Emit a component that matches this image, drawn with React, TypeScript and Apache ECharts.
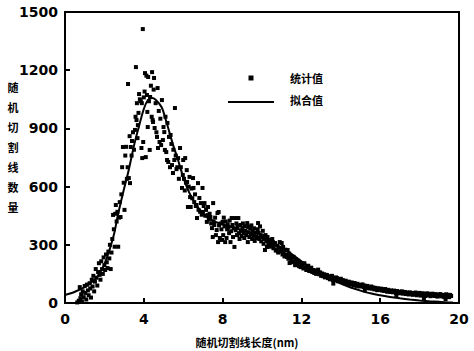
import React, { useEffect, useRef } from "react";
import * as echarts from "echarts";

const xTicks = [0, 4, 8, 12, 16, 20];
const yTicks = [0, 300, 600, 900, 1200, 1500];
const legendNames = ["统计值", "拟合值"];
const xAxisTitle = "随机切割线长度(nm)";
const yAxisTitle = "随机切割线数量";

const risePoints: number[][] = [
  [0.62, 3], [0.7, 12], [0.75, 82], [0.78, 25], [0.82, 45], [0.86, 8], [0.9, 60], [0.95, 30],
  [1.0, 88], [1.03, 52], [1.08, 18], [1.12, 95], [1.16, 65], [1.2, 40], [1.25, 102], [1.28, 75],
  [1.32, 28], [1.36, 120], [1.4, 85], [1.44, 140], [1.48, 60], [1.52, 110], [1.56, 175], [1.6, 130],
  [1.64, 90], [1.68, 160], [1.72, 205], [1.76, 145], [1.8, 120], [1.84, 215], [1.88, 175], [1.92, 150],
  [1.96, 235], [2.0, 195], [2.04, 170], [2.08, 250], [2.12, 210], [2.16, 180], [2.2, 265],
  [2.25, 230], [2.28, 300], [2.32, 175], [2.36, 260], [2.4, 330], [2.44, 454], [2.48, 380], [2.52, 290],
  [2.55, 460], [2.58, 505], [2.62, 420], [2.66, 470], [2.7, 290], [2.74, 440], [2.78, 520], [2.82, 443],
  [2.86, 560], [2.9, 700], [2.94, 804], [2.98, 620], [3.02, 480], [3.06, 760], [3.1, 805], [3.14, 640],
  [3.18, 700], [3.2, 1129], [3.24, 644], [3.28, 860],
];

const peakPoints: number[][] = [
  [3.3, 618], [3.34, 804], [3.38, 760], [3.4, 835], [3.45, 880], [3.5, 790], [3.55, 892], [3.58, 960],
  [3.6, 1216], [3.63, 943], [3.65, 1030], [3.68, 850], [3.7, 917], [3.73, 980], [3.76, 1077], [3.8, 1050],
  [3.85, 1040], [3.88, 799], [3.9, 1030], [3.92, 747], [3.95, 1412], [3.97, 830], [4.0, 1060], [4.04, 1090],
  [4.06, 1185], [4.1, 752], [4.13, 1172], [4.16, 1072], [4.18, 985], [4.2, 907], [4.22, 1165], [4.26, 1040],
  [4.3, 789], [4.32, 1062], [4.36, 1120], [4.4, 960], [4.42, 1190], [4.45, 943], [4.47, 933], [4.5, 1100],
  [4.52, 1160], [4.55, 902], [4.6, 1030], [4.64, 880], [4.67, 856], [4.7, 1108], [4.72, 799], [4.76, 990],
  [4.8, 830], [4.84, 950], [4.88, 814], [4.92, 1046], [4.97, 840], [5.0, 907], [5.04, 881], [5.07, 789],
  [5.1, 960], [5.14, 778], [5.18, 737], [5.2, 928], [5.24, 727], [5.28, 856], [5.33, 700], [5.36, 866],
  [5.4, 820], [5.43, 711], [5.48, 670], [5.5, 790], [5.55, 737], [5.58, 1005], [5.62, 760], [5.66, 690],
  [5.7, 700], [5.74, 747], [5.78, 640], [5.84, 799], [5.88, 700], [5.94, 593], [5.98, 660], [6.0, 737],
];

const shoulderPoints: number[][] = [
  [6.04, 640], [6.08, 580], [6.1, 747], [6.14, 620], [6.18, 685], [6.2, 624], [6.24, 495], [6.28, 600],
  [6.32, 650], [6.35, 546], [6.38, 495], [6.42, 590], [6.46, 540], [6.5, 644], [6.52, 593], [6.56, 520],
  [6.6, 560], [6.64, 500], [6.68, 505], [6.7, 438], [6.75, 618], [6.78, 480], [6.82, 541], [6.86, 470],
  [6.9, 515], [6.94, 455], [6.98, 593], [7.0, 469], [7.04, 500], [7.08, 515], [7.12, 450], [7.16, 480],
  [7.2, 418], [7.24, 453], [7.26, 495], [7.3, 430], [7.34, 460], [7.38, 443], [7.42, 410], [7.46, 386],
  [7.5, 340], [7.52, 515], [7.54, 420], [7.58, 402], [7.62, 440], [7.66, 350], [7.7, 376], [7.74, 464],
  [7.77, 314], [7.8, 469], [7.82, 400], [7.86, 335], [7.9, 410], [7.94, 380], [7.97, 325], [8.0, 418],
  [8.03, 350], [8.06, 440], [8.1, 395], [8.13, 314], [8.16, 420], [8.2, 335], [8.23, 380], [8.26, 405],
  [8.3, 392], [8.33, 360], [8.36, 425], [8.4, 314], [8.43, 370], [8.46, 438], [8.5, 402], [8.53, 340],
  [8.56, 385], [8.6, 289], [8.63, 438], [8.66, 375], [8.7, 410], [8.73, 350], [8.76, 395], [8.8, 438],
  [8.83, 360], [8.86, 330], [8.9, 402], [8.93, 372], [8.96, 345], [9.0, 386], [9.03, 410], [9.06, 360],
  [9.1, 335], [9.13, 395], [9.16, 372], [9.2, 350], [9.25, 412], [9.28, 314], [9.3, 392], [9.33, 365],
  [9.36, 340], [9.4, 385], [9.43, 355], [9.46, 400], [9.5, 330], [9.53, 370], [9.56, 350], [9.6, 385],
  [9.63, 320], [9.66, 362], [9.7, 340], [9.75, 335], [9.78, 380], [9.8, 412], [9.83, 361], [9.86, 330],
  [9.9, 395], [9.93, 350], [9.96, 318], [10.0, 345], [10.04, 372], [10.08, 305], [10.12, 330], [10.15, 273],
  [10.18, 350], [10.22, 320], [10.25, 289], [10.28, 340], [10.32, 305], [10.36, 325], [10.4, 290], [10.44, 315],
  [10.48, 298], [10.52, 330], [10.55, 314], [10.58, 282], [10.62, 300], [10.66, 309], [10.7, 270], [10.75, 273],
  [10.78, 295], [10.82, 260], [10.86, 285], [10.9, 314], [10.94, 265], [10.98, 280], [11.0, 309], [11.04, 250],
  [11.07, 289], [11.1, 262], [11.14, 240], [11.18, 275], [11.22, 250], [11.27, 237], [11.3, 273], [11.34, 228],
  [11.38, 255], [11.4, 206], [11.44, 245], [11.48, 222], [11.52, 235], [11.56, 210], [11.6, 238], [11.64, 215],
  [11.68, 195], [11.72, 225], [11.76, 205], [11.8, 206], [11.84, 218], [11.88, 190], [11.92, 210], [11.96, 185],
  [12.0, 200],
];

const tailPoints: number[][] = [
  [12.05, 192], [12.1, 178], [12.15, 205], [12.2, 185], [12.25, 170], [12.3, 180], [12.35, 192], [12.4, 165],
  [12.45, 175], [12.5, 182], [12.55, 160], [12.6, 170], [12.65, 155], [12.7, 168], [12.75, 150], [12.8, 160],
  [12.85, 172], [12.9, 148], [12.95, 158], [13.0, 140], [13.05, 152], [13.1, 138], [13.15, 148], [13.2, 132],
  [13.25, 145], [13.3, 144], [13.35, 128], [13.4, 138], [13.45, 122], [13.5, 133], [13.55, 140], [13.6, 118],
  [13.62, 100], [13.65, 128], [13.7, 120], [13.75, 132], [13.8, 129], [13.85, 112], [13.9, 122], [13.95, 115],
  [14.0, 125], [14.05, 108], [14.1, 118], [14.15, 112], [14.2, 102], [14.25, 115], [14.3, 108], [14.35, 98],
  [14.4, 110], [14.45, 104], [14.5, 95], [14.55, 106], [14.6, 100], [14.65, 92], [14.7, 103], [14.75, 96],
  [14.8, 88], [14.85, 99], [14.9, 92], [14.95, 85], [15.0, 93], [15.05, 88], [15.1, 96], [15.15, 82],
  [15.2, 90], [15.22, 65], [15.25, 84], [15.3, 78], [15.35, 88], [15.4, 80], [15.45, 75], [15.5, 77],
  [15.55, 85], [15.6, 74], [15.65, 80], [15.7, 70], [15.75, 78], [15.8, 72], [15.85, 66], [15.9, 76],
  [15.95, 70], [16.0, 67], [16.05, 74], [16.1, 64], [16.15, 70], [16.2, 62], [16.25, 72], [16.3, 66],
  [16.35, 58], [16.4, 68], [16.45, 62], [16.5, 57], [16.55, 65], [16.6, 60], [16.65, 55], [16.7, 64],
  [16.75, 58], [16.8, 52], [16.82, 38], [16.85, 62], [16.9, 56], [16.95, 50], [17.0, 58], [17.05, 53],
  [17.1, 60], [17.15, 48], [17.2, 52], [17.25, 57], [17.3, 46], [17.35, 54], [17.4, 50], [17.45, 44],
  [17.5, 55], [17.55, 48], [17.6, 52], [17.65, 42], [17.7, 50], [17.75, 46], [17.8, 54], [17.85, 40],
  [17.9, 48], [17.95, 44], [18.0, 52], [18.05, 38], [18.1, 46], [18.15, 50], [18.2, 42], [18.22, 25],
  [18.25, 48], [18.3, 36], [18.35, 45], [18.4, 50], [18.45, 40], [18.5, 46], [18.55, 35], [18.6, 44],
  [18.65, 48], [18.7, 41], [18.75, 36], [18.8, 46], [18.85, 40], [18.9, 33], [18.95, 44], [19.0, 38],
  [19.05, 46], [19.1, 34], [19.15, 42], [19.2, 37], [19.25, 30], [19.3, 41], [19.32, 20], [19.35, 45],
  [19.4, 35], [19.45, 40], [19.5, 30], [19.55, 42], [19.6, 36],
];

const fitPoints: number[][] = [
  [0, 41], [0.5, 58], [1.0, 82], [1.5, 120], [1.8, 160], [2.0, 200], [2.2, 255], [2.5, 360],
  [2.7, 460], [3.0, 590], [3.2, 670], [3.5, 810], [3.7, 890], [4.0, 1000], [4.2, 1045], [4.42, 1057],
  [4.6, 1048], [4.9, 1010], [5.1, 950], [5.33, 870], [5.5, 810], [5.7, 750], [6.0, 650], [6.3, 570],
  [6.6, 515], [7.0, 460], [7.5, 425], [8.0, 405], [8.5, 390], [9.0, 375], [9.5, 355], [10.0, 335],
  [10.5, 310], [11.0, 285], [11.5, 252], [12.0, 215], [12.5, 180], [13.0, 150], [13.5, 123], [14.0, 100],
  [14.5, 80], [15.0, 64], [15.5, 50], [16.0, 40], [16.5, 31], [17.0, 24], [17.5, 18], [18.0, 13],
  [18.5, 9], [19.0, 6], [19.5, 3], [19.7, 2],
];

const scatterPoints = [...risePoints, ...peakPoints, ...shoulderPoints, ...tailPoints];

const numFont = "'DejaVu Sans', 'Liberation Sans', sans-serif";
const cjkFont = "'Noto Sans CJK SC', sans-serif";

export default function App() {
  const ref = useRef<HTMLDivElement>(null);
  useEffect(() => {
    if (!ref.current) return;
    const chart = echarts.init(ref.current, null, { renderer: "svg" });
    chart.setOption({
      animation: false,
      backgroundColor: "#fff",
      grid: {
        left: 65,
        right: 15,
        top: 12,
        bottom: 48,
        show: true,
        borderColor: "#000",
        borderWidth: 2,
        containLabel: false,
      },
      xAxis: {
        type: "value",
        min: xTicks[0],
        max: xTicks[xTicks.length - 1],
        interval: 4,
        axisLine: { show: true, lineStyle: { color: "#000", width: 2 } },
        axisTick: { show: true, inside: true, length: 5, lineStyle: { color: "#000", width: 2 } },
        axisLabel: {
          color: "#000",
          fontFamily: numFont,
          fontWeight: "bold",
          fontSize: 14,
          margin: 9,
          formatter: (v: number) => String(v),
        },
        splitLine: { show: false },
      },
      yAxis: {
        type: "value",
        min: yTicks[0],
        max: yTicks[yTicks.length - 1],
        interval: 300,
        axisLine: { show: true, lineStyle: { color: "#000", width: 2 } },
        axisTick: { show: true, inside: true, length: 5, lineStyle: { color: "#000", width: 2 } },
        axisLabel: {
          color: "#000",
          fontFamily: numFont,
          fontWeight: "bold",
          fontSize: 14,
          margin: 7,
          formatter: (v: number) => String(v),
        },
        splitLine: { show: false },
      },
      series: [
        {
          name: legendNames[0],
          type: "scatter",
          data: scatterPoints,
          symbol: "rect",
          symbolSize: 4,
          itemStyle: { color: "#000", opacity: 1 },
          z: 2,
        },
        {
          name: legendNames[1],
          type: "line",
          data: fitPoints,
          smooth: 0.3,
          showSymbol: false,
          symbol: "none",
          lineStyle: { color: "#000", width: 2 },
          z: 3,
        },
      ],
      graphic: [
        {
          type: "rect",
          shape: { x: 248.5, y: 75.5, width: 5, height: 5 },
          style: { fill: "#000" },
        },
        {
          type: "line",
          shape: { x1: 228, y1: 102, x2: 274, y2: 102 },
          style: { stroke: "#000", lineWidth: 2 },
        },
        {
          type: "text",
          x: 290,
          y: 78,
          style: {
            text: legendNames[0],
            fill: "#000",
            font: `bold 11px ${cjkFont}`,
            verticalAlign: "middle",
          },
        },
        {
          type: "text",
          x: 290,
          y: 100,
          style: {
            text: legendNames[1],
            fill: "#000",
            font: `bold 11px ${cjkFont}`,
            verticalAlign: "middle",
          },
        },
        {
          type: "text",
          x: 247,
          y: 342,
          style: {
            text: xAxisTitle,
            fill: "#000",
            font: `bold 11px ${cjkFont}`,
            align: "center",
            verticalAlign: "middle",
          },
        },
        {
          type: "text",
          x: 13,
          y: 147,
          style: {
            text: yAxisTitle.split("").join("\n"),
            fill: "#000",
            font: `bold 11px ${cjkFont}`,
            lineHeight: 20,
            align: "center",
            verticalAlign: "middle",
          },
        },
      ],
    });
    return () => chart.dispose();
  }, []);
  return (
    <div
      ref={ref}
      style={{ position: "fixed", left: 0, top: 0, width: 474, height: 351, background: "#fff" }}
    />
  );
}
